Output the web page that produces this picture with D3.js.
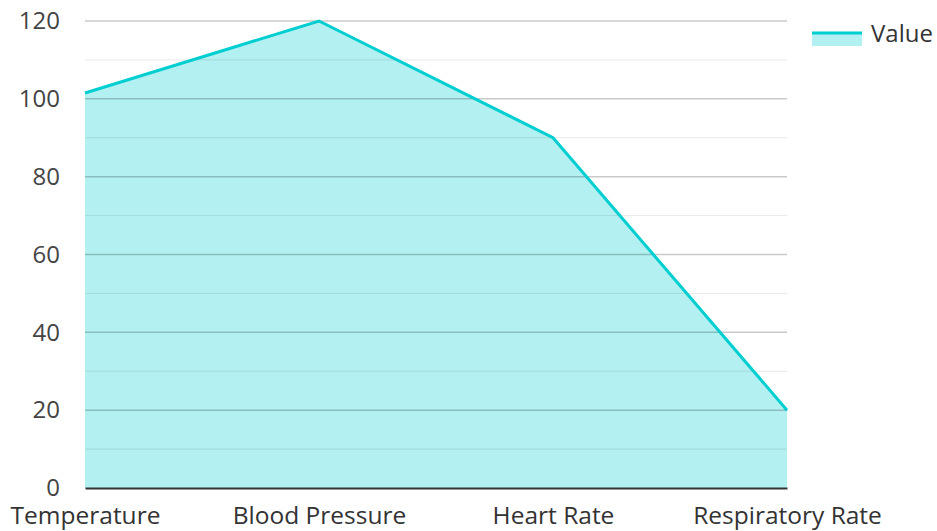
<!DOCTYPE html>
<html>
<head>
<meta charset="utf-8">
<script src="https://cdn.jsdelivr.net/npm/d3@7"></script>
<style>
  body { margin: 0; background: #fff; }
  text { font-family: "Open Sans", "Noto Sans", sans-serif; }
</style>
</head>
<body>
<script>
//chart data
var categories = ["Temperature", "Blood Pressure", "Heart Rate", "Respiratory Rate"];
var values = [101.5, 120, 90, 20];
var yTicks = [0, 20, 40, 60, 80, 100, 120];
var minorTicks = [10, 30, 50, 70, 90, 110];
var seriesName = "Value";

var w = 937, h = 531;
var lineColor = "#00ced1";

var svg = d3.select("body").append("svg")
    .attr("width", w)
    .attr("height", h);

//scales
var x = d3.scalePoint()
    .domain(categories)
    .range([85, 787])
    .padding(0);

var y = d3.scaleLinear()
    .domain([0, 120])
    .range([488, 21]);

var data = categories.map(function(c, i){ return {cat: c, v: values[i]}; });

//area fill
var area = d3.area()
    .x(function(d){ return x(d.cat); })
    .y0(y(0))
    .y1(function(d){ return y(d.v); });

svg.append("path")
    .datum(data)
    .attr("d", area)
    .style("fill", lineColor)
    .style("fill-opacity", 0.3);

//grid lines drawn over the fill
svg.selectAll(".minor")
    .data(minorTicks)
    .enter().append("line")
    .attr("x1", 85).attr("x2", 787)
    .attr("y1", function(d){ return y(d); })
    .attr("y2", function(d){ return y(d); })
    .style("stroke", "rgba(0,0,0,0.09)")
    .style("stroke-width", 1);

svg.selectAll(".major")
    .data(yTicks.slice(1))
    .enter().append("line")
    .attr("x1", 85).attr("x2", 787)
    .attr("y1", function(d){ return y(d); })
    .attr("y2", function(d){ return y(d); })
    .style("stroke", "rgba(0,0,0,0.21)")
    .style("stroke-width", 1.5);

//line
var line = d3.line()
    .x(function(d){ return x(d.cat); })
    .y(function(d){ return y(d.v); });

svg.append("path")
    .datum(data)
    .attr("d", line)
    .style("fill", "none")
    .style("stroke", lineColor)
    .style("stroke-width", 3)
    .style("stroke-linejoin", "miter");

//y axis labels
var yAxis = d3.axisLeft(y).tickValues(yTicks).tickSize(0).tickPadding(25);
var gy = svg.append("g")
    .attr("transform", "translate(85,0)")
    .call(yAxis);
gy.select(".domain").remove();
gy.selectAll("text")
    .style("font-size", "24px")
    .style("fill", "#444")
    .style("font-family", "'Open Sans', 'Noto Sans', sans-serif");

//x axis
var xAxis = d3.axisBottom(x).tickSize(0).tickPadding(19);
var gx = svg.append("g")
    .attr("transform", "translate(0,488)")
    .call(xAxis);
gx.select(".domain")
    .style("stroke", "#333")
    .style("stroke-width", 2);
gx.selectAll("text")
    .style("font-size", "24.5px")
    .style("fill", "#333")
    .style("font-family", "'Open Sans', 'Noto Sans', sans-serif");

//legend
var legend = svg.append("g").attr("transform", "translate(812,31)");
legend.append("rect")
    .attr("x", 0).attr("y", 2)
    .attr("width", 50).attr("height", 13)
    .style("fill", lineColor)
    .style("fill-opacity", 0.3);
legend.append("line")
    .attr("x1", 0).attr("x2", 50)
    .attr("y1", 2).attr("y2", 2)
    .style("stroke", lineColor)
    .style("stroke-width", 3);
legend.append("text")
    .attr("x", 59)
    .attr("y", 3)
    .attr("dy", "0.35em")
    .style("font-size", "24px")
    .style("fill", "#333")
    .text(seriesName);
</script>
</body>
</html>
